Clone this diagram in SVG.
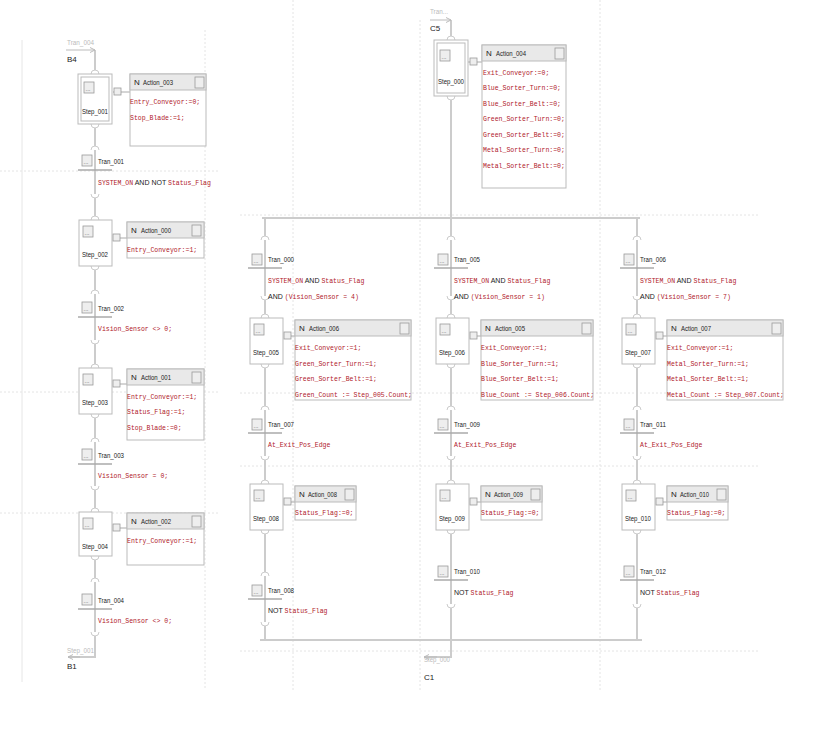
<svg xmlns="http://www.w3.org/2000/svg" width="813" height="751" viewBox="0 0 813 751">
<style>
.l{font-family:"Liberation Sans",Arial,sans-serif;font-size:8px;fill:#222}
.f{font-family:"Liberation Sans",Arial,sans-serif;font-size:8px;fill:#bbb}
.c{font-family:"Liberation Mono","DejaVu Sans Mono",monospace;font-size:6.5px;fill:#b0202a}
.k{font-family:"Liberation Sans",Arial,sans-serif;font-size:7px;fill:#222}
.d{font-family:"Liberation Sans",Arial,sans-serif;font-size:6px;fill:#555}
.st{fill:#fff;stroke:#bbb;stroke-width:1}
.ab{fill:#fff;stroke:#bbb;stroke-width:1}
.ah{fill:#e9e9e9;stroke:#bbb;stroke-width:1}
.bt{fill:#eee;stroke:#999;stroke-width:0.8}
.w{stroke:#ccc;stroke-width:2;fill:none}
.bar{stroke:#aaa;stroke-width:1.5}
.g{stroke:#e4e4e4;stroke-width:1;stroke-dasharray:2 2;fill:none}
.cap{fill:#fff;stroke:#ccc;stroke-width:1}
</style>
<defs>
<marker id="ar" markerWidth="6" markerHeight="6" refX="5" refY="3" orient="auto"><path d="M0,0.5 L5,3 L0,5.5" fill="none" stroke="#bbb"/></marker>
</defs>
<rect width="813" height="751" fill="#fff"/>
<g id="grid">
<path class="g" d="M0,171 H220 M0,392 H220 M0,513 H220 M205,30 V690 M240,215 H760 M240,393 H760 M240,466 H760 M240,651 H760 M293,0 V690 M600,0 V690 M420,20 V690"/>
<line x1="22" y1="40" x2="22" y2="682" stroke="#e6e6e6"/>
</g>
<g id="connectors">
<path class="w" d="M95,50 V657 H68"/>
<path d="M66,50 H95" stroke="#bbb" fill="none" marker-end="url(#ar)"/>
<path class="w" d="M451,20 V218 M262,218 H640 M265,218 V640 M451,218 V657 H424 M637,218 V640 M260,640 H642" />
<path d="M430,20 H451" stroke="#bbb" fill="none" marker-end="url(#ar)"/>
<path d="M437,657 H424" stroke="#bbb" fill="none" marker-end="url(#ar)"/>
<path d="M80,657 H68" stroke="#bbb" fill="none" marker-end="url(#ar)"/>
<g stroke="#aaa" stroke-width="1">
<line x1="113" y1="92" x2="130" y2="92"/><line x1="113" y1="238" x2="127" y2="238"/><line x1="113" y1="384" x2="127" y2="384"/><line x1="113" y1="528" x2="127" y2="528"/>
<line x1="468" y1="62" x2="482" y2="62"/>
<line x1="284" y1="336" x2="295" y2="336"/><line x1="470" y1="336" x2="481" y2="336"/><line x1="656" y1="336" x2="667" y2="336"/>
<line x1="284" y1="502" x2="295" y2="502"/><line x1="470" y1="502" x2="481" y2="502"/><line x1="656" y1="502" x2="667" y2="502"/>
</g>
<g class="cap">
<path d="M91,74 a4,4 0 0 1 8,0"/><path d="M91,124 a4,4 0 0 0 8,0"/><path d="M91,150 a4,4 0 0 1 8,0"/><path d="M91,194 a4,4 0 0 0 8,0"/>
<path d="M91,220 a4,4 0 0 1 8,0"/><path d="M91,266 a4,4 0 0 0 8,0"/><path d="M91,294 a4,4 0 0 1 8,0"/><path d="M91,340 a4,4 0 0 0 8,0"/>
<path d="M91,368 a4,4 0 0 1 8,0"/><path d="M91,414 a4,4 0 0 0 8,0"/><path d="M91,442 a4,4 0 0 1 8,0"/><path d="M91,486 a4,4 0 0 0 8,0"/>
<path d="M91,512 a4,4 0 0 1 8,0"/><path d="M91,556 a4,4 0 0 0 8,0"/><path d="M91,582 a4,4 0 0 1 8,0"/><path d="M91,632 a4,4 0 0 0 8,0"/>
<path d="M447,40 a4,4 0 0 1 8,0"/><path d="M447,96 a4,4 0 0 0 8,0"/>
<path d="M261,240 a4,4 0 0 1 8,0"/><path d="M261,296 a4,4 0 0 0 8,0"/><path d="M261,318 a4,4 0 0 1 8,0"/><path d="M261,364 a4,4 0 0 0 8,0"/>
<path d="M261,410 a4,4 0 0 1 8,0"/><path d="M261,456 a4,4 0 0 0 8,0"/><path d="M261,484 a4,4 0 0 1 8,0"/><path d="M261,530 a4,4 0 0 0 8,0"/>
<path d="M261,576 a4,4 0 0 1 8,0"/><path d="M261,622 a4,4 0 0 0 8,0"/>
<path d="M447,240 a4,4 0 0 1 8,0"/><path d="M447,296 a4,4 0 0 0 8,0"/><path d="M447,318 a4,4 0 0 1 8,0"/><path d="M447,364 a4,4 0 0 0 8,0"/>
<path d="M447,410 a4,4 0 0 1 8,0"/><path d="M447,456 a4,4 0 0 0 8,0"/><path d="M447,484 a4,4 0 0 1 8,0"/><path d="M447,530 a4,4 0 0 0 8,0"/>
<path d="M447,604 a4,4 0 0 0 8,0"/>
<path d="M633,240 a4,4 0 0 1 8,0"/><path d="M633,296 a4,4 0 0 0 8,0"/><path d="M633,318 a4,4 0 0 1 8,0"/><path d="M633,364 a4,4 0 0 0 8,0"/>
<path d="M633,410 a4,4 0 0 1 8,0"/><path d="M633,456 a4,4 0 0 0 8,0"/><path d="M633,484 a4,4 0 0 1 8,0"/><path d="M633,530 a4,4 0 0 0 8,0"/>
<path d="M633,604 a4,4 0 0 0 8,0"/>
</g>
<text class="f" x="67" y="45" textLength="27" lengthAdjust="spacingAndGlyphs">Tran_004</text><text class="l" x="67" y="62">B4</text>
<text class="f" x="67" y="653" textLength="27" lengthAdjust="spacingAndGlyphs">Step_001</text><text class="l" x="67" y="669">B1</text>
<text class="f" x="430" y="14" textLength="18" lengthAdjust="spacingAndGlyphs">Tran...</text><text class="l" x="430" y="31">C5</text>
<text class="f" x="424" y="662" textLength="26" lengthAdjust="spacingAndGlyphs">Step_000</text><text class="l" x="424" y="680">C1</text>
</g>

<g id="Step_001"><rect class="st" x="78" y="74" width="34" height="50"/><rect class="st" x="81" y="77" width="28" height="44"/><rect class="bt" x="84" y="82" width="10" height="11"/><text class="d" x="85.5" y="91">...</text><text class="l" x="82" y="114" textLength="26" lengthAdjust="spacingAndGlyphs">Step_001</text><rect class="bt" x="114" y="88" width="7" height="7"/></g>
<g id="Step_002"><rect class="st" x="79" y="220" width="33" height="46"/><rect class="bt" x="83" y="226" width="10" height="11"/><text class="d" x="84.5" y="235">...</text><text class="l" x="82" y="257" textLength="26" lengthAdjust="spacingAndGlyphs">Step_002</text><rect class="bt" x="113" y="234" width="7" height="7"/></g>
<g id="Step_003"><rect class="st" x="79" y="368" width="33" height="46"/><rect class="bt" x="83" y="374" width="10" height="11"/><text class="d" x="84.5" y="383">...</text><text class="l" x="82" y="405" textLength="26" lengthAdjust="spacingAndGlyphs">Step_003</text><rect class="bt" x="113" y="380" width="7" height="7"/></g>
<g id="Step_004"><rect class="st" x="79" y="512" width="33" height="44"/><rect class="bt" x="83" y="518" width="10" height="11"/><text class="d" x="84.5" y="527">...</text><text class="l" x="82" y="549" textLength="26" lengthAdjust="spacingAndGlyphs">Step_004</text><rect class="bt" x="113" y="524" width="7" height="7"/></g>

<g id="Step_000"><rect class="st" x="434" y="40" width="34" height="56"/><rect class="st" x="437" y="43" width="28" height="50"/><rect class="bt" x="440" y="50" width="10" height="11"/><text class="d" x="441.5" y="59">...</text><text class="l" x="438" y="84" textLength="26" lengthAdjust="spacingAndGlyphs">Step_000</text><rect class="bt" x="470" y="58" width="7" height="7"/></g>
<g id="Step_005"><rect class="st" x="250" y="318" width="33" height="46"/><rect class="bt" x="254" y="324" width="10" height="11"/><text class="d" x="255.5" y="333">...</text><text class="l" x="253" y="355" textLength="26" lengthAdjust="spacingAndGlyphs">Step_005</text><rect class="bt" x="284" y="332" width="7" height="7"/></g>
<g id="Step_006"><rect class="st" x="436" y="318" width="33" height="46"/><rect class="bt" x="440" y="324" width="10" height="11"/><text class="d" x="441.5" y="333">...</text><text class="l" x="439" y="355" textLength="26" lengthAdjust="spacingAndGlyphs">Step_006</text><rect class="bt" x="470" y="332" width="7" height="7"/></g>
<g id="Step_007"><rect class="st" x="622" y="318" width="33" height="46"/><rect class="bt" x="626" y="324" width="10" height="11"/><text class="d" x="627.5" y="333">...</text><text class="l" x="625" y="355" textLength="26" lengthAdjust="spacingAndGlyphs">Step_007</text><rect class="bt" x="656" y="332" width="7" height="7"/></g>
<g id="Step_008"><rect class="st" x="250" y="484" width="33" height="46"/><rect class="bt" x="254" y="490" width="10" height="11"/><text class="d" x="255.5" y="499">...</text><text class="l" x="253" y="521" textLength="26" lengthAdjust="spacingAndGlyphs">Step_008</text><rect class="bt" x="284" y="498" width="7" height="7"/></g>
<g id="Step_009"><rect class="st" x="436" y="484" width="33" height="46"/><rect class="bt" x="440" y="490" width="10" height="11"/><text class="d" x="441.5" y="499">...</text><text class="l" x="439" y="521" textLength="26" lengthAdjust="spacingAndGlyphs">Step_009</text><rect class="bt" x="470" y="498" width="7" height="7"/></g>
<g id="Step_010"><rect class="st" x="622" y="484" width="33" height="46"/><rect class="bt" x="626" y="490" width="10" height="11"/><text class="d" x="627.5" y="499">...</text><text class="l" x="625" y="521" textLength="26" lengthAdjust="spacingAndGlyphs">Step_010</text><rect class="bt" x="656" y="498" width="7" height="7"/></g>

<g id="Action_003"><rect class="ab" x="130" y="74" width="76" height="72"/><rect class="ah" x="130" y="74" width="76" height="16"/><text class="l" x="134" y="85">N</text><text class="l" x="143" y="85" textLength="30" lengthAdjust="spacingAndGlyphs">Action_003</text><rect class="bt" x="195" y="77" width="9" height="11"/>
<text class="c" x="130" y="104">Entry_Conveyor:=0;</text><text class="c" x="130" y="120">Stop_Blade:=1;</text></g>
<g id="Action_000"><rect class="ab" x="127" y="222" width="77" height="36"/><rect class="ah" x="127" y="222" width="77" height="16"/><text class="l" x="131" y="233">N</text><text class="l" x="141" y="233" textLength="30" lengthAdjust="spacingAndGlyphs">Action_000</text><rect class="bt" x="192" y="225" width="9" height="11"/>
<text class="c" x="127" y="252">Entry_Conveyor:=1;</text></g>
<g id="Action_001"><rect class="ab" x="127" y="369" width="77" height="71"/><rect class="ah" x="127" y="369" width="77" height="16"/><text class="l" x="131" y="380">N</text><text class="l" x="141" y="380" textLength="30" lengthAdjust="spacingAndGlyphs">Action_001</text><rect class="bt" x="192" y="372" width="9" height="11"/>
<text class="c" x="127" y="399">Entry_Conveyor:=1;</text><text class="c" x="127" y="414">Status_Flag:=1;</text><text class="c" x="127" y="430">Stop_Blade:=0;</text></g>
<g id="Action_002"><rect class="ab" x="127" y="513" width="77" height="52"/><rect class="ah" x="127" y="513" width="77" height="16"/><text class="l" x="131" y="524">N</text><text class="l" x="141" y="524" textLength="30" lengthAdjust="spacingAndGlyphs">Action_002</text><rect class="bt" x="192" y="516" width="9" height="11"/>
<text class="c" x="127" y="543">Entry_Conveyor:=1;</text></g>
<g id="Action_004"><rect class="ab" x="482" y="45" width="84" height="143"/><rect class="ah" x="482" y="45" width="84" height="16"/><text class="l" x="486" y="56">N</text><text class="l" x="496" y="56" textLength="30" lengthAdjust="spacingAndGlyphs">Action_004</text><rect class="bt" x="555" y="48" width="9" height="11"/>
<text class="c" x="483" y="75">Exit_Conveyor:=0;</text><text class="c" x="483" y="90">Blue_Sorter_Turn:=0;</text><text class="c" x="483" y="106">Blue_Sorter_Belt:=0;</text><text class="c" x="483" y="121">Green_Sorter_Turn:=0;</text><text class="c" x="483" y="137">Green_Sorter_Belt:=0;</text><text class="c" x="483" y="152">Metal_Sorter_Turn:=0;</text><text class="c" x="483" y="168">Metal_Sorter_Belt:=0;</text></g>
<g id="Action_006"><rect class="ab" x="295" y="320" width="116" height="80"/><rect class="ah" x="295" y="320" width="116" height="16"/><text class="l" x="299" y="331">N</text><text class="l" x="309" y="331" textLength="30" lengthAdjust="spacingAndGlyphs">Action_006</text><rect class="bt" x="400" y="323" width="9" height="11"/>
<text class="c" x="295" y="350">Exit_Conveyor:=1;</text><text class="c" x="295" y="366">Green_Sorter_Turn:=1;</text><text class="c" x="295" y="381">Green_Sorter_Belt:=1;</text><text class="c" x="295" y="397">Green_Count := Step_005.Count;</text></g>
<g id="Action_005"><rect class="ab" x="481" y="320" width="112" height="80"/><rect class="ah" x="481" y="320" width="112" height="16"/><text class="l" x="485" y="331">N</text><text class="l" x="495" y="331" textLength="30" lengthAdjust="spacingAndGlyphs">Action_005</text><rect class="bt" x="582" y="323" width="9" height="11"/>
<text class="c" x="481" y="350">Exit_Conveyor:=1;</text><text class="c" x="481" y="366">Blue_Sorter_Turn:=1;</text><text class="c" x="481" y="381">Blue_Sorter_Belt:=1;</text><text class="c" x="481" y="397">Blue_Count := Step_006.Count;</text></g>
<g id="Action_007"><rect class="ab" x="667" y="320" width="116" height="80"/><rect class="ah" x="667" y="320" width="116" height="16"/><text class="l" x="671" y="331">N</text><text class="l" x="681" y="331" textLength="30" lengthAdjust="spacingAndGlyphs">Action_007</text><rect class="bt" x="772" y="323" width="9" height="11"/>
<text class="c" x="667" y="350">Exit_Conveyor:=1;</text><text class="c" x="667" y="366">Metal_Sorter_Turn:=1;</text><text class="c" x="667" y="381">Metal_Sorter_Belt:=1;</text><text class="c" x="667" y="397">Metal_Count := Step_007.Count;</text></g>
<g id="Action_008"><rect class="ab" x="295" y="486" width="61" height="34"/><rect class="ah" x="295" y="486" width="61" height="16"/><text class="l" x="299" y="497">N</text><text class="l" x="308" y="497" textLength="29" lengthAdjust="spacingAndGlyphs">Action_008</text><rect class="bt" x="345" y="489" width="9" height="11"/>
<text class="c" x="295" y="515">Status_Flag:=0;</text></g>
<g id="Action_009"><rect class="ab" x="481" y="486" width="61" height="34"/><rect class="ah" x="481" y="486" width="61" height="16"/><text class="l" x="485" y="497">N</text><text class="l" x="494" y="497" textLength="29" lengthAdjust="spacingAndGlyphs">Action_009</text><rect class="bt" x="531" y="489" width="9" height="11"/>
<text class="c" x="481" y="515">Status_Flag:=0;</text></g>
<g id="Action_010"><rect class="ab" x="667" y="486" width="61" height="34"/><rect class="ah" x="667" y="486" width="61" height="16"/><text class="l" x="671" y="497">N</text><text class="l" x="680" y="497" textLength="29" lengthAdjust="spacingAndGlyphs">Action_010</text><rect class="bt" x="717" y="489" width="9" height="11"/>
<text class="c" x="667" y="515">Status_Flag:=0;</text></g>

<g id="Tran_001"><rect class="bt" x="82" y="155" width="10" height="11"/><text class="d" x="83.5" y="164">...</text><text class="l" x="98" y="164" textLength="26" lengthAdjust="spacingAndGlyphs">Tran_001</text><line class="bar" x1="78" y1="170" x2="112" y2="170"/><text x="98" y="185"><tspan class="c">SYSTEM_ON</tspan><tspan class="k"> AND NOT </tspan><tspan class="c">Status_Flag</tspan></text></g>
<g id="Tran_002"><rect class="bt" x="82" y="302" width="10" height="11"/><text class="d" x="83.5" y="311">...</text><text class="l" x="98" y="311" textLength="26" lengthAdjust="spacingAndGlyphs">Tran_002</text><line class="bar" x1="78" y1="317" x2="112" y2="317"/><text class="c" x="98" y="331">Vision_Sensor &lt;&gt; 0;</text></g>
<g id="Tran_003"><rect class="bt" x="82" y="449" width="10" height="11"/><text class="d" x="83.5" y="458">...</text><text class="l" x="98" y="458" textLength="26" lengthAdjust="spacingAndGlyphs">Tran_003</text><line class="bar" x1="78" y1="464" x2="112" y2="464"/><text class="c" x="98" y="478">Vision_Sensor = 0;</text></g>
<g id="Tran_004"><rect class="bt" x="82" y="594" width="10" height="11"/><text class="d" x="83.5" y="603">...</text><text class="l" x="98" y="603" textLength="26" lengthAdjust="spacingAndGlyphs">Tran_004</text><line class="bar" x1="78" y1="609" x2="112" y2="609"/><text class="c" x="98" y="623">Vision_Sensor &lt;&gt; 0;</text></g>

<g id="Tran_000"><rect class="bt" x="252" y="254" width="10" height="11"/><text class="d" x="253.5" y="263">...</text><text class="l" x="268" y="262" textLength="26" lengthAdjust="spacingAndGlyphs">Tran_000</text><line class="bar" x1="248" y1="268" x2="282" y2="268"/><text x="268" y="283"><tspan class="c">SYSTEM_ON</tspan><tspan class="k"> AND </tspan><tspan class="c">Status_Flag</tspan></text><text x="268" y="299"><tspan class="k">AND </tspan><tspan class="c">(Vision_Sensor = 4)</tspan></text></g>
<g id="Tran_005"><rect class="bt" x="438" y="254" width="10" height="11"/><text class="d" x="439.5" y="263">...</text><text class="l" x="454" y="262" textLength="26" lengthAdjust="spacingAndGlyphs">Tran_005</text><line class="bar" x1="434" y1="268" x2="468" y2="268"/><text x="454" y="283"><tspan class="c">SYSTEM_ON</tspan><tspan class="k"> AND </tspan><tspan class="c">Status_Flag</tspan></text><text x="454" y="299"><tspan class="k">AND </tspan><tspan class="c">(Vision_Sensor = 1)</tspan></text></g>
<g id="Tran_006"><rect class="bt" x="624" y="254" width="10" height="11"/><text class="d" x="625.5" y="263">...</text><text class="l" x="640" y="262" textLength="26" lengthAdjust="spacingAndGlyphs">Tran_006</text><line class="bar" x1="620" y1="268" x2="654" y2="268"/><text x="640" y="283"><tspan class="c">SYSTEM_ON</tspan><tspan class="k"> AND </tspan><tspan class="c">Status_Flag</tspan></text><text x="640" y="299"><tspan class="k">AND </tspan><tspan class="c">(Vision_Sensor = 7)</tspan></text></g>
<g id="Tran_007"><rect class="bt" x="252" y="419" width="10" height="11"/><text class="d" x="253.5" y="428">...</text><text class="l" x="268" y="427" textLength="26" lengthAdjust="spacingAndGlyphs">Tran_007</text><line class="bar" x1="248" y1="433" x2="282" y2="433"/><text class="c" x="268" y="447">At_Exit_Pos_Edge</text></g>
<g id="Tran_009"><rect class="bt" x="438" y="419" width="10" height="11"/><text class="d" x="439.5" y="428">...</text><text class="l" x="454" y="427" textLength="26" lengthAdjust="spacingAndGlyphs">Tran_009</text><line class="bar" x1="434" y1="433" x2="468" y2="433"/><text class="c" x="454" y="447">At_Exit_Pos_Edge</text></g>
<g id="Tran_011"><rect class="bt" x="624" y="419" width="10" height="11"/><text class="d" x="625.5" y="428">...</text><text class="l" x="640" y="427" textLength="26" lengthAdjust="spacingAndGlyphs">Tran_011</text><line class="bar" x1="620" y1="433" x2="654" y2="433"/><text class="c" x="640" y="447">At_Exit_Pos_Edge</text></g>
<g id="Tran_008"><rect class="bt" x="252" y="585" width="10" height="11"/><text class="d" x="253.5" y="594">...</text><text class="l" x="268" y="593" textLength="26" lengthAdjust="spacingAndGlyphs">Tran_008</text><line class="bar" x1="248" y1="599" x2="282" y2="599"/><text x="268" y="613"><tspan class="k">NOT </tspan><tspan class="c">Status_Flag</tspan></text></g>
<g id="Tran_010"><rect class="bt" x="438" y="566" width="10" height="11"/><text class="d" x="439.5" y="575">...</text><text class="l" x="454" y="574" textLength="26" lengthAdjust="spacingAndGlyphs">Tran_010</text><line class="bar" x1="434" y1="580" x2="468" y2="580"/><text x="454" y="595"><tspan class="k">NOT </tspan><tspan class="c">Status_Flag</tspan></text></g>
<g id="Tran_012"><rect class="bt" x="624" y="566" width="10" height="11"/><text class="d" x="625.5" y="575">...</text><text class="l" x="640" y="574" textLength="26" lengthAdjust="spacingAndGlyphs">Tran_012</text><line class="bar" x1="620" y1="580" x2="654" y2="580"/><text x="640" y="595"><tspan class="k">NOT </tspan><tspan class="c">Status_Flag</tspan></text></g>
</svg>
